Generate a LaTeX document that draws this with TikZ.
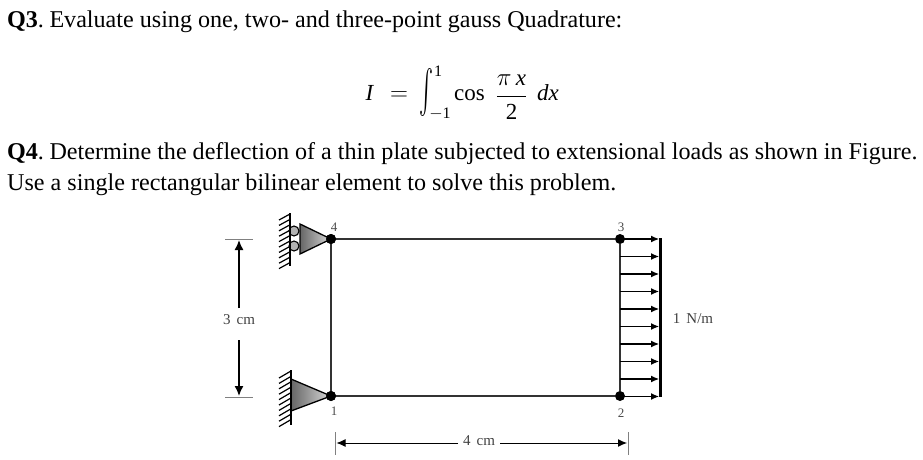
\documentclass[tikz,border=0pt]{standalone}
\usepackage{graphicx}
\usepackage{fontspec}
\setmainfont{Liberation Serif}
\usetikzlibrary{arrows.meta}
\tikzset{
  txt/.style={anchor=base west, inner sep=0pt, font=\fontsize{24.1}{27}\selectfont},
  eqn/.style={anchor=base, inner sep=0pt, font=\fontsize{23}{26}\selectfont},
  lim/.style={inner sep=0pt, font=\fontsize{16}{18}\selectfont},
  num/.style={inner sep=1pt, text=black!70, font=\fontsize{13}{15}\selectfont},
  lab/.style={inner sep=1pt, text=black!75, font=\fontsize{15}{17}\selectfont, execute at begin node={\spaceskip=6pt\relax}},
  joint/.style={circle, fill=black, inner sep=0pt, minimum size=10pt},
  edge/.style={line width=1.4pt, black!80},
  tri/.style={line width=1.3pt, left color=black!60, right color=black!15},
  wall/.style={line width=1.2pt},
  tick/.style={line width=.8pt, black!50},
  dimen/.style={-{Latex[length=10pt,width=9pt]}, line width=1.5pt},
  dimh/.style={-{Latex[length=9pt,width=8pt]}, line width=1pt},
  load/.style={-{Latex[length=8pt,width=7pt]}, line width=1.1pt}
}
\begin{document}
\begin{tikzpicture}[x=1pt, y=-1pt]
\useasboundingbox (0,0) rectangle (923,460);
% text
\node[txt] (q3) at (7,28) {\textbf{Q3}.\hspace{5.5pt}Evaluate using one, two- and three-point gauss Quadrature:};
\node[txt] (q4) at (7,159) {\textbf{Q4}.\hspace{5.5pt}Determine the deflection of a thin plate subjected to extensional loads as shown in Figure.};
\node[txt] (use) at (7,190) {Use a single rectangular bilinear element to solve this problem.};

% equation
\node[eqn] (eqi) at (370,100) {\textit{I}};
\node[eqn] (eqe) at (399,100) {$=$};
\node[inner sep=0pt] (eqint) at (426,93) {\resizebox*{14pt}{48pt}{$\textstyle\int$}};
\node[lim] (equp) at (438,71) {1};
\node[lim] (eqlo) at (440,114) {$-$1};
\node[eqn] (eqc) at (469.5,100) {cos};
\node[inner sep=0pt, font=\fontsize{23}{26}\selectfont] (eqf) at (511.5,97) {$\displaystyle\frac{\pi\,\textit{x}}{\mbox{2}}$};
\node[eqn] (eqd) at (548,100) {\textit{dx}};

% plate
\node[joint] (n1) at (331,396) {};
\node[joint] (n2) at (620,396) {};
\node[joint] (n3) at (620,239) {};
\node[joint] (n4) at (331,239) {};
\draw[edge] (n1) -- (n2) -- (n3) -- (n4) -- (n1);
\node[num] (l1) at (334,411) {1};
\node[num] (l2) at (621,413) {2};
\node[num] (l3) at (621,227) {3};
\node[num] (l4) at (334,227) {4};

% load
\coordinate (bartop) at (660,238);
\coordinate (barbot) at (660,397);
\draw[line width=3pt] (bartop) -- (barbot);
\foreach \i/\yy in {1/239,2/256.5,3/274,4/291.5,5/309,6/326.5,7/344,8/361.5,9/379,10/396.5}{
  \coordinate (a\i) at (620,\yy);
  \coordinate (b\i) at (659,\yy);
  \draw[load] (a\i) -- (b\i);
}
\node[lab] (force) at (693,319) {1 N/m};

% supports
\draw[tri] (300,224) -- (n4.center) -- (300,254) -- cycle;
\draw[line width=1.1pt, fill=black!30] (294,231) circle (5);
\draw[line width=1.1pt, fill=black!30] (294,246) circle (5);
\draw[tri] (291,379) -- (n1.center) -- (291,411) -- cycle;
\draw[wall] (290,213) -- (290,266);
\draw[wall] (291,370) -- (291,425);
\foreach \yy in {214,219.4,224.8,230.2,235.6,241,246.4,251.8,257.2,262.6}
  \draw[wall] (290,\yy) -- (279,\yy+6);
\foreach \yy in {371,376.4,381.8,387.2,392.6,398,403.4,408.8,414.2,419.6}
  \draw[wall] (291,\yy) -- (279,\yy+7);
\fill (n4) circle (5);
\fill (n1) circle (5);

% dimensions
\coordinate (tv1) at (225,239);
\coordinate (tv2) at (253,239);
\coordinate (tv3) at (225,397);
\coordinate (tv4) at (253,397);
\coordinate (th1) at (335.5,432);
\coordinate (th2) at (335.5,455);
\coordinate (th3) at (628,432);
\coordinate (th4) at (628,455);
\draw[tick] (tv1) -- (tv2);
\draw[tick] (tv3) -- (tv4);
\draw[tick] (th1) -- (th2);
\draw[tick] (th3) -- (th4);
\coordinate (dv1) at (239,240);
\coordinate (dv2) at (239,396);
\coordinate (dv3) at (239,308);
\coordinate (dv4) at (239,340);
\coordinate (dh1) at (336.5,443);
\coordinate (dh2) at (627,443);
\coordinate (dh3) at (458,443);
\coordinate (dh4) at (500,443);
\node[lab] (dimv) at (239,320) {3 cm};
\node[lab] (dimh) at (479,441) {4 cm};
\draw[dimen] (dv3) -- (dv1);
\draw[dimen] (dv4) -- (dv2);
\draw[dimh] (dh3) -- (dh1);
\draw[dimh] (dh4) -- (dh2);
\end{tikzpicture}
\end{document}
